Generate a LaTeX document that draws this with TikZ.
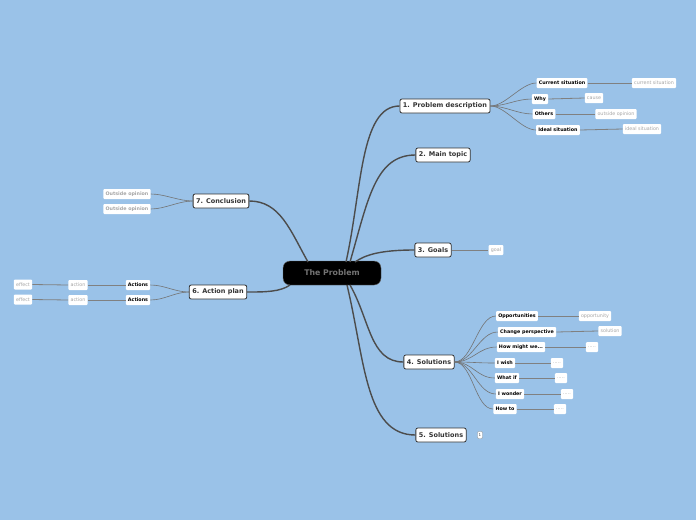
\documentclass[tikz,border=0pt]{standalone}
\usepackage{fontspec}
\setmainfont{DejaVu Sans}
\newcommand\myfive{.....}
\newcommand\myhmw{How might we...}
\begin{document}
\begin{tikzpicture}[x=1pt,y=-1pt,
 main/.style={draw=black!80,line width=0.8pt,fill=white,rounded corners=2pt,font=\bfseries\fontsize{6.5}{7}\selectfont,text=black!80,inner sep=3pt,minimum height=14pt},
 sub/.style={fill=white,rounded corners=1pt,font=\bfseries\fontsize{4.8}{5}\selectfont,text=black,inner sep=2.2pt,minimum height=10pt},
 leaf/.style={fill=white,rounded corners=1pt,font=\fontsize{4.8}{5}\selectfont,text=black!35,inner sep=2.2pt,minimum height=10pt},
 rootl/.style={line width=1.4pt,draw=black!70},
 subl/.style={line width=0.6pt,draw=black!55},
 leafl/.style={line width=0.8pt,draw=black!50}]
\fill[fill={rgb,255:red,154;green,194;blue,232}] (0,0) rectangle (696,520);
\node[fill=black,draw=black!60,rounded corners=7pt,minimum width=98pt,minimum height=24pt,text=black!55,font=\bfseries\fontsize{7.8}{8}\selectfont] (root) at (332,273) {The Problem};
\node[main] (b1) at (445,106) {1. Problem description};
\node[main] (b2) at (443,155) {2. Main topic};
\node[main] (b3) at (433,250) {3. Goals};
\node[main] (b4) at (429,362) {4. Solutions};
\node[main] (b5) at (441,435) {5. Solutions};
\node[main] (b7) at (221,201) {7. Conclusion};
\node[main] (b6) at (218,292) {6. Action plan};
\node[leaf,draw=black!40,text=black!70,inner sep=1.2pt,minimum height=7pt,font=\fontsize{4}{4}\selectfont] (badge) at (480,435) {1};
\node[leaf] (goal) at (496,250) {goal};
\coordinate (r1) at (346,262);
\coordinate (r2) at (350,262);
\coordinate (r3) at (355,262);
\coordinate (r4) at (350,285);
\coordinate (r5) at (347,285);
\coordinate (r7) at (308,262);
\coordinate (r6) at (290,285);
\draw[rootl] (r1) .. controls (362,190) and (360,106) .. (b1.west);
\draw[rootl] (r2) .. controls (368,200) and (375,155) .. (b2.west);
\draw[rootl] (r3) .. controls (365,255) and (380,250) .. (b3.west);
\draw[rootl] (r4) .. controls (370,320) and (370,362) .. (b4.west);
\draw[rootl] (r5) .. controls (365,360) and (365,435) .. (b5.west);
\draw[rootl] (r7) .. controls (290,230) and (280,201) .. (b7.east);
\draw[rootl] (r6) .. controls (280,292) and (265,292) .. (b6.east);
\draw[leafl] (b3.east) -- (goal.west);
\foreach \n/\t/\l/\px/\py/\qx/\qy in {s11/Current situation/current situation/562/83/654/83, s12/Why/cause/540/99/594/98, s13/Others/outside opinion/544/114/616/114, s14/Ideal situation/ideal situation/558/130/642/129}{
 \node[sub] (\n) at (\px,\py) {\t};
 \node[leaf] (\n l) at (\qx,\qy) {\l};
 \draw[subl] (b1.east) .. controls +(15,0) and +(-15,0) .. (\n.west);
 \draw[leafl] (\n.east) -- (\n l.west);
}
\foreach \n/\t/\l/\px/\py/\qx/\qy in {s41/Opportunities/opportunity/517/316/595/316, s42/Change perspective/solution/527/332/610/331, s43/\myhmw/\myfive/521/347/592/347, s44/I wish/\myfive/505/363/557/363, s45/What if/\myfive/507/378/561/378, s46/I wonder/\myfive/510/394/567/394, s47/How to/\myfive/505/409/560/409}{
 \node[sub] (\n) at (\px,\py) {\t};
 \node[leaf] (\n l) at (\qx,\qy) {\l};
 \draw[subl] (b4.east) .. controls +(18,0) and +(-18,0) .. (\n.west);
 \draw[leafl] (\n.east) -- (\n l.west);
}
\foreach \n/\y in {s71/194, s72/209}{
 \node[leaf,font=\bfseries\fontsize{4.8}{5}\selectfont] (\n) at (127,\y) {Outside opinion};
 \draw[subl] (b7.west) .. controls +(-14,0) and +(14,0) .. (\n.east);
}
\foreach \n/\y in {s61/285, s62/300}{
 \node[sub] (\n) at (138,\y) {Actions};
 \node[leaf] (\n a) at (78,\y) {action};
 \node[leaf] (\n e) at (23,\y-0.5) {effect};
 \draw[subl] (b6.west) .. controls +(-14,0) and +(14,0) .. (\n.east);
 \draw[leafl] (\n.west) -- (\n a.east);
 \draw[leafl] (\n a.west) -- (\n e.east);
}
\end{tikzpicture}
\end{document}
